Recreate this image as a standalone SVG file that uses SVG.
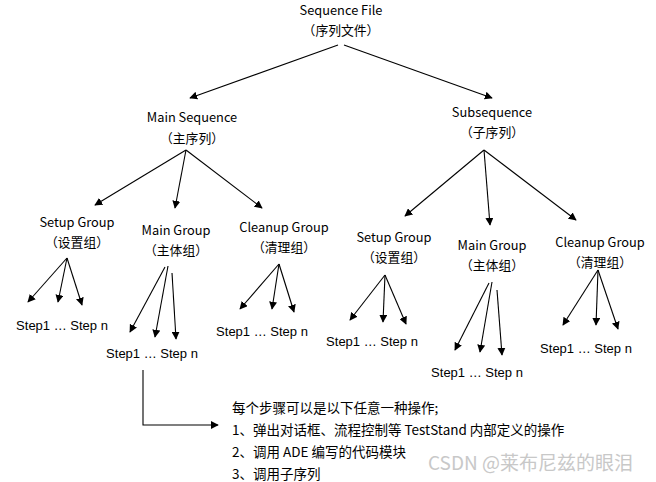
<svg xmlns="http://www.w3.org/2000/svg" width="656" height="482" viewBox="0 0 656 482">
<defs>
<marker id="ah" viewBox="0 0 10 10" refX="9" refY="5" markerWidth="8" markerHeight="8" orient="auto" markerUnits="userSpaceOnUse"><path d="M0,0L10,5L0,10z" fill="#000"/></marker>
<style>
text{font-family:"Microsoft YaHei","Noto Sans CJK SC",sans-serif;font-size:12.8px;fill:#000;text-anchor:middle}
.s{font-family:"Liberation Sans","Noto Sans CJK SC",sans-serif;font-size:13px}
.l{text-anchor:start;font-size:13.5px}
line,polyline{stroke:#000;stroke-width:1.1;fill:none;marker-end:url(#ah)}
</style>
</defs>
<rect width="656" height="482" fill="#fff"/>
<g id="n-root"><text x="341" y="15">Sequence File</text><text x="341" y="35">（序列文件）</text></g>
<g id="n-main"><text x="192" y="122">Main Sequence</text><text x="192" y="143">（主序列）</text></g>
<g id="n-sub"><text x="492" y="117">Subsequence</text><text x="492" y="137">（子序列）</text></g>
<g id="n-setup1"><text x="77" y="227">Setup Group</text><text x="77" y="247">（设置组）</text></g>
<g id="n-maing1"><text x="176" y="235">Main Group</text><text x="176" y="255">（主体组）</text></g>
<g id="n-clean1"><text x="284" y="232">Cleanup Group</text><text x="284" y="252">（清理组）</text></g>
<g id="n-setup2"><text x="394" y="242">Setup Group</text><text x="394" y="262">（设置组）</text></g>
<g id="n-maing2"><text x="492" y="250">Main Group</text><text x="492" y="270">（主体组）</text></g>
<g id="n-clean2"><text x="600" y="247">Cleanup Group</text><text x="600" y="267">（清理组）</text></g>
<g id="n-steps"><text class="s" x="62" y="330">Step1 … Step n</text><text class="s" x="152" y="358">Step1 … Step n</text><text class="s" x="262" y="336">Step1 … Step n</text><text class="s" x="372" y="346">Step1 … Step n</text><text class="s" x="477" y="377">Step1 … Step n</text><text class="s" x="586" y="353">Step1 … Step n</text></g>
<g id="n-note"><text class="l" x="232" y="413">每个步骤可以是以下任意一种操作;</text><text class="l" x="232" y="435">1、弹出对话框、流程控制等 TestStand 内部定义的操作</text><text class="l" x="232" y="457">2、调用 ADE 编写的代码模块</text><text class="l" x="232" y="479">3、调用子序列</text></g>
<g id="watermark"><text class="l" x="428" y="470" style="font-size:19px;fill:#c8c8c8">CSDN @莱布尼兹的眼泪</text></g>
<g id="connectors">
<line x1="338" y1="45" x2="190" y2="98"/><line x1="344" y1="45" x2="492" y2="98"/>
<line x1="186" y1="150" x2="95" y2="205"/><line x1="186" y1="150" x2="175" y2="208"/><line x1="186" y1="150" x2="262" y2="208"/>
<line x1="484" y1="150" x2="405" y2="216"/><line x1="484" y1="150" x2="490" y2="225"/><line x1="484" y1="150" x2="576" y2="220"/>
<line x1="67" y1="258" x2="28" y2="302"/><line x1="67" y1="258" x2="58" y2="302"/><line x1="67" y1="258" x2="82" y2="305"/>
<line x1="165" y1="267" x2="130" y2="332"/><line x1="168" y1="266" x2="155" y2="337"/><line x1="172" y1="273" x2="176" y2="339"/>
<line x1="279" y1="264" x2="240" y2="309"/><line x1="279" y1="264" x2="272" y2="309"/><line x1="279" y1="264" x2="294" y2="312"/>
<line x1="385" y1="275" x2="350" y2="320"/><line x1="385" y1="275" x2="383" y2="322"/><line x1="385" y1="275" x2="406" y2="324"/>
<line x1="489" y1="283" x2="455" y2="350"/><line x1="492" y1="282" x2="480" y2="352"/><line x1="497" y1="290" x2="502" y2="355"/>
<line x1="598" y1="270" x2="563" y2="325"/><line x1="598" y1="270" x2="596" y2="325"/><line x1="598" y1="270" x2="618" y2="329"/>
<polyline points="143,370 143,425 218,425"/>
</g>
</svg>
